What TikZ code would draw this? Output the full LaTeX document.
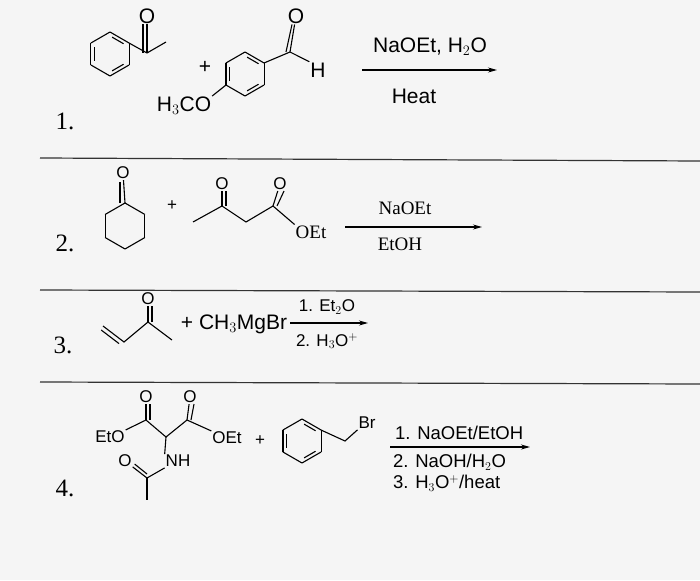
\documentclass[tikz,border=0pt]{standalone}
\usetikzlibrary{arrows.meta}
\usepackage{fontspec}
\setmainfont{Liberation Sans}
\newfontfamily\serf{Liberation Serif}
\begin{document}
\begin{tikzpicture}[x=1pt,y=-1pt,line width=1.1pt,
  lbl/.style={inner sep=0.5pt,font=\fontsize{21}{23}\selectfont},
  clbl/.style={inner sep=0.5pt,font=\fontsize{18.5}{20}\selectfont},
  slbl/.style={inner sep=0.5pt,font=\fontsize{17}{19}\selectfont},
  tlbl/.style={inner sep=0.5pt,font=\serf\fontsize{19}{21}\selectfont},
  num/.style={inner sep=0pt,font=\serf\fontsize{25}{27}\selectfont},
  rxn/.style={-{Stealth[length=9pt,width=5pt]},line width=1.2pt},
  sep/.style={line width=1.2pt,black!80},
  bz/.pic={\foreach \a in {30,90,...,330}{\draw (\a:22)--(\a+60:22);}
           \foreach \a in {30,150,270}{\draw (\a+7:17)--(\a+53:17);}},
  hx/.pic={\foreach \a in {30,90,...,330}{\draw (\a:23)--(\a+60:23);}}]
\useasboundingbox (0,0) rectangle (700,580);
\fill[black!4] (0,0) rectangle (700,580);
% separators
\coordinate (s1a) at (40,158); \coordinate (s1b) at (700,161);
\coordinate (s2a) at (40,290); \coordinate (s2b) at (700,292);
\coordinate (s3a) at (40,382); \coordinate (s3b) at (700,384);
\draw[sep] (s1a)--(s1b); \draw[sep] (s2a)--(s2b); \draw[sep] (s3a)--(s3b);
% ---- row 1
\pic at (110,54) {bz};
\coordinate (a1) at (129,43); \coordinate (a2) at (147,53);
\node[lbl] (o1) at (147,16) {O}; \coordinate (a3) at (166,42);
\draw (a1)--(a2)--(a3); \draw (a2)--(o1); \draw ([xshift=-4]a2) -- ([xshift=-4]o1.south);
\node[lbl] (p1) at (205,67) {+};
\pic at (245,74) {bz};
\coordinate (b1) at (264,63); \coordinate (b2) at (290,52);
\node[lbl] (o2) at (296,16) {O}; \node[lbl] (h1) at (318,70) {H};
\draw (b1)--(b2)--(h1.north west); \draw (b2)--(o2); \draw ([xshift=-4]b2)--([xshift=-4]o2.south);
\coordinate (b3) at (226,85);
\node[lbl] (meo) at (184,106) {H$_3$CO};
\draw (b3)--(meo.north east);
\coordinate (r1s) at (362,70); \coordinate (r1e) at (497,70);
\draw[rxn] (r1s)--(r1e);
\node[lbl] (c1) at (430,47) {NaOEt, H$_2$O};
\node[lbl] (c1b) at (414,96) {Heat};
\node[num] (n1) at (65,121) {1.};
% ---- row 2
\pic at (125,226) {hx};
\node[slbl] (o3) at (123,173) {O};
\draw (125,203)--(o3); \draw (120,203)--(120,182);
\node[slbl] (p2) at (172,206) {+};
\coordinate (e1) at (193,222); \coordinate (e2) at (222,206);
\coordinate (e3) at (246,222); \coordinate (e4) at (273,206);
\node[slbl] (o4) at (222,184) {O}; \node[slbl] (o5) at (280,184) {O};
\node[tlbl] (oet) at (311,232) {OEt};
\draw (e1)--(e2)--(e3)--(e4)--(oet.north west);
\draw (e2)--(o4); \draw ([xshift=4]e2)--([xshift=4]o4.south);
\draw (e4)--(o5); \draw ([xshift=4]e4)--([xshift=4]o5.south);
\coordinate (r2s) at (345,227); \coordinate (r2e) at (482,227);
\draw[rxn] (r2s)--(r2e);
\node[tlbl] (c2) at (405,208) {NaOEt};
\node[tlbl] (c2b) at (400,244) {EtOH};
\node[num] (n2) at (65,243) {2.};
% ---- row 3
\coordinate (v1) at (103,326); \coordinate (v2) at (124,342);
\coordinate (v3) at (148,322); \coordinate (v4) at (172,340);
\node[slbl] (o6) at (148,299) {O};
\draw (v1)--(v2)--(v3)--(v4); \draw (v3)--(o6);
\draw ([xshift=4]v3)--([xshift=4]o6.south);
\draw[shorten <=1pt,shorten >=3pt] ([xshift=-2.6,yshift=-3.4]v1)--([xshift=-2.6,yshift=-3.4]v2);
\node[lbl] (gr) at (234,324) {+ CH$_3$MgBr};
\coordinate (r3s) at (290,323); \coordinate (r3e) at (368,323);
\draw[rxn] (r3s)--(r3e);
\node[slbl] (c3) at (327,307) {1. Et$_2$O};
\node[slbl] (c3b) at (327,341) {2. H$_3$O$^+$};
\node[num] (n3) at (63,345) {3.};
% ---- row 4
\node[slbl] (eto) at (110,437) {EtO};
\coordinate (m1) at (146,420); \coordinate (m2) at (166,437);
\coordinate (m3) at (187,420);
\node[slbl] (o7) at (146,397) {O}; \node[slbl] (o8) at (190,397) {O};
\node[slbl] (oet2) at (227,438) {OEt};
\draw (eto.north east)--(m1)--(m2)--(m3)--(oet2.north west);
\draw (m1)--(o7); \draw ([xshift=4]m1)--([xshift=4]o7.south);
\draw (m3)--(o8); \draw ([xshift=4]m3)--([xshift=4]o8.south);
\node[slbl] (nh) at (178,461) {NH};
\draw (m2)--(nh.north west);
\coordinate (m4) at (147,478);
\node[slbl] (o9) at (125,461) {O};
\draw (nh.south west)--(m4); \draw (m4)--(o9); \draw ([yshift=4]m4)--([xshift=2,yshift=4]o9.south east);
\coordinate (m5) at (147,500); \draw (m4)--(m5);
\node[slbl] (p3) at (260,441) {+};
\pic at (302,441) {bz};
\coordinate (k1) at (321,430); \coordinate (k2) at (345,441);
\node[slbl] (br) at (367,423) {Br};
\draw (k1)--(k2)--(br.south west);
\coordinate (r4s) at (390,447); \coordinate (r4e) at (530,447);
\draw[rxn] (r4s)--(r4e);
\node[clbl,anchor=west] (c4) at (394,433) {1. NaOEt/EtOH};
\node[clbl,anchor=west] (c4b) at (392,462) {2. NaOH/H$_2$O};
\node[clbl,anchor=west] (c4c) at (392,483) {3. H$_3$O$^+$/heat};
\node[num] (n4) at (65,488) {4.};
\end{tikzpicture}
\end{document}
